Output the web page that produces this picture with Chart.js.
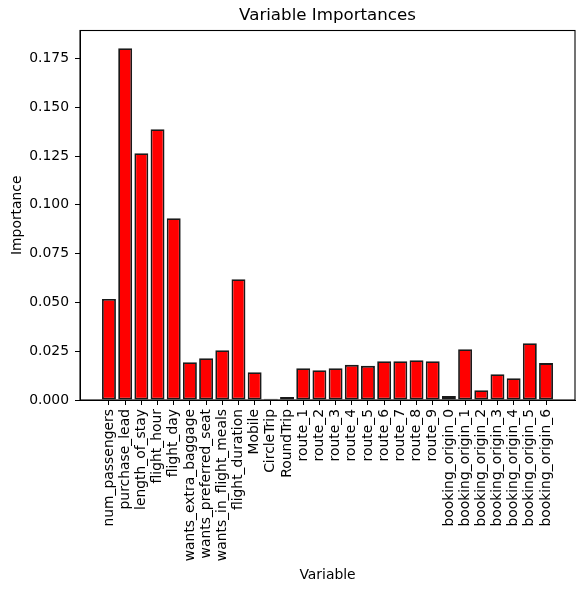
<!DOCTYPE html>
<html>
<head>
<meta charset="utf-8">
<script src="https://cdn.jsdelivr.net/npm/chart.js@4.4.1/dist/chart.umd.min.js"></script>
<style>
html,body{margin:0;padding:0;background:#fff;}
#wrap{width:585px;height:592px;position:relative;}
</style>
</head>
<body>
<div id="wrap"><canvas id="c" width="585" height="592"></canvas></div>
<script>
const variables = ["num_passengers","purchase_lead","length_of_stay","flight_hour","flight_day",
  "wants_extra_baggage","wants_preferred_seat","wants_in_flight_meals","flight_duration","Mobile",
  "CircleTrip","RoundTrip","route_1","route_2","route_3","route_4","route_5","route_6","route_7",
  "route_8","route_9","booking_origin_0","booking_origin_1","booking_origin_2","booking_origin_3",
  "booking_origin_4","booking_origin_5","booking_origin_6"];
const importances = [0.0518,0.1802,0.1264,0.1387,0.0931,
  0.0194,0.0214,0.0255,0.0619,0.0142,
  0.0006,0.0016,0.0163,0.0153,0.0163,0.0180,0.0175,0.0199,0.0199,
  0.0204,0.0199,0.0020,0.0260,0.0050,0.0132,
  0.0112,0.0291,0.0189];
const yTicks = [0,0.025,0.05,0.075,0.1,0.125,0.15,0.175];

const FONT = "'DejaVu Sans', sans-serif";

const frame = {
  id: 'frame',
  afterDatasetsDraw(chart) {
    const {ctx, chartArea: a} = chart;
    ctx.save();
    ctx.strokeStyle = '#000';
    ctx.lineWidth = 1.1;
    ctx.strokeRect(a.left, a.top, a.right - a.left, a.bottom - a.top);
    ctx.restore();
  }
};

new Chart(document.getElementById('c'), {
  type: 'bar',
  data: {
    datasets: [{
      data: importances.map((v, i) => ({x: i, y: v})),
      backgroundColor: '#ff0000',
      borderColor: '#1a1a1a',
      borderWidth: 1.8,
      borderSkipped: false,
      barPercentage: 0.86,
      categoryPercentage: 1.0
    }]
  },
  options: {
    responsive: false,
    animation: false,
    devicePixelRatio: 1,
    layout: {padding: {top: 0, left: 0, right: 10, bottom: 0}},
    plugins: {
      legend: {display: false},
      tooltip: {enabled: false},
      title: {
        display: true,
        text: 'Variable Importances',
        fullSize: false,
        color: '#000',
        font: {family: FONT, size: 16.67, weight: 'normal', lineHeight: 1.2},
        padding: {top: 5.5, bottom: 5}
      }
    },
    scales: {
      x: {
        type: 'linear',
        offset: false,
        min: -1.79,
        max: 28.79,
        afterBuildTicks(scale) { scale.ticks = variables.map((_, i) => ({value: i})); },
        afterFit(scale) { scale.height = 192; },
        ticks: {
          autoSkip: false,
          minRotation: 90,
          maxRotation: 90,
          padding: 4,
          color: '#000',
          font: {family: FONT, size: 13.9},
          callback: (v) => variables[v]
        },
        grid: {display: true, offset: false, drawOnChartArea: false, drawTicks: true, tickLength: 5, color: '#000', lineWidth: 1},
        border: {display: true, color: '#000', width: 1},
        title: {
          display: true,
          text: 'Variable',
          color: '#000',
          font: {family: FONT, size: 13.9},
          padding: {top: 0, bottom: 8}
        }
      },
      y: {
        type: 'linear',
        min: 0,
        max: 0.1893,
        afterBuildTicks(scale) { scale.ticks = yTicks.map(v => ({value: v})); },
        afterFit(scale) { scale.width = 80; },
        ticks: {
          padding: 6,
          color: '#000',
          font: {family: FONT, size: 13.9},
          callback: (v) => Number(v).toFixed(3)
        },
        grid: {display: true, drawOnChartArea: false, drawTicks: true, tickLength: 5, color: '#000', lineWidth: 1},
        border: {display: true, color: '#000', width: 1},
        title: {
          display: true,
          text: 'Importance',
          color: '#000',
          font: {family: FONT, size: 13.9},
          padding: {top: 9, bottom: 0}
        }
      }
    }
  },
  plugins: [frame]
});
</script>
</body>
</html>
